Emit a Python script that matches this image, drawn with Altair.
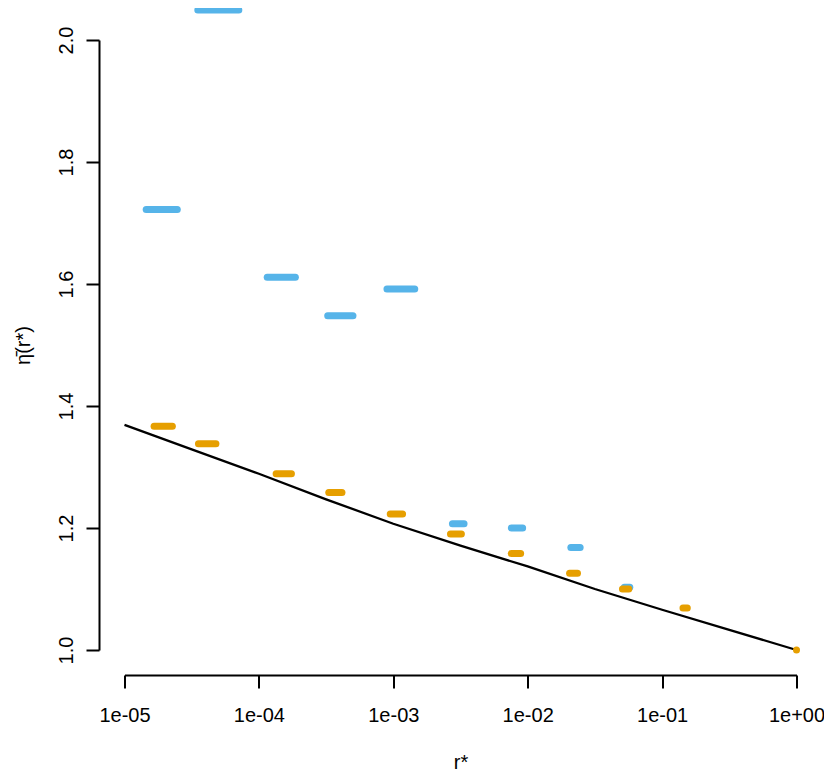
import altair as alt
import pandas as pd

# ---- data ----
line_r = [1e-5, 3.162e-5, 1e-4, 3.162e-4, 1e-3, 3.162e-3, 1e-2, 3.162e-2, 1e-1, 3.162e-1, 1.0]
line_eta = [1.369, 1.329, 1.289, 1.247, 1.207, 1.171, 1.137, 1.100, 1.066, 1.033, 1.000]

blue_lo = [1.45e-5, 3.51e-5, 1.153e-4, 3.25e-4, 8.97e-4, 2.754e-3, 7.55e-3, 2.094e-2, 5.24e-2]
blue_hi = [2.47e-5, 7.09e-5, 1.868e-4, 5.01e-4, 1.444e-3, 3.36e-3, 9.17e-3, 2.456e-2, 5.75e-2]
blue_val = [1.722, 2.049, 1.611, 1.548, 1.592, 1.207, 1.200, 1.168, 1.103]

orange_lo = [1.66e-5, 3.55e-5, 1.343e-4, 3.31e-4, 9.49e-4, 2.663e-3, 7.55e-3, 2.049e-2, 5.07e-2, 0.143, 1.0]
orange_hi = [2.27e-5, 4.79e-5, 1.746e-4, 4.15e-4, 1.172e-3, 3.21e-3, 8.86e-3, 2.347e-2, 5.65e-2, 0.154, 1.0]
orange_val = [1.367, 1.338, 1.289, 1.258, 1.223, 1.190, 1.158, 1.126, 1.100, 1.069, 1.000]

x_tick_values = [1e-5, 1e-4, 1e-3, 1e-2, 1e-1, 1.0]
x_tick_labels = ["1e-05", "1e-04", "1e-03", "1e-02", "1e-01", "1e+00"]
y_tick_values = [1.0, 1.2, 1.4, 1.6, 1.8, 2.0]

x_title = "r*"
y_title = "\u03b7\u0304(r*)"

BLUE = "#56B4E9"
ORANGE = "#E69F00"
FONT = "Liberation Sans"

line_df = pd.DataFrame({"r": line_r, "eta": line_eta})
blue_df = pd.DataFrame({"lo": blue_lo, "hi": blue_hi, "val": blue_val})
orange_df = pd.DataFrame({"lo": orange_lo, "hi": orange_hi, "val": orange_val})

W, H = 672, 610

label_expr = "[" + ",".join("'%s'" % s for s in x_tick_labels) + "][round(log(datum.value)/LN10) + 5]"

x_scale = alt.Scale(type="log", domain=[1e-5, 1.0], nice=False)
y_scale = alt.Scale(domain=[1.0, 2.0], nice=False, zero=False)

common_axis = dict(
    grid=False, domainColor="black", domainWidth=2, tickColor="black", tickWidth=2,
    tickSize=13, labelFont=FONT, labelFontSize=20, labelColor="black",
    labelFlush=False, labelOverlap=False, titleFont=FONT, titleFontSize=20,
    titleFontWeight="normal", titleColor="black",
)

x_axis = alt.Axis(
    values=x_tick_values, labelExpr=label_expr, title=x_title, offset=25,
    labelPadding=33, labelBaseline="alphabetic", labelAlign="center",
    titleX=W / 2, titleY=93, titleBaseline="alphabetic", titleAlign="center",
    **common_axis,
)
y_axis = alt.Axis(
    values=y_tick_values, format=".1f", title=y_title, offset=25.5,
    labelAngle=270, labelAlign="center", labelBaseline="alphabetic", labelPadding=14,
    titleAngle=270, titleX=-70, titleY=H / 2, titleAlign="center", titleBaseline="alphabetic",
    **common_axis,
)

line = alt.Chart(line_df).mark_line(color="black", strokeWidth=2.3).encode(
    x=alt.X("r:Q", scale=x_scale, axis=x_axis),
    y=alt.Y("eta:Q", scale=y_scale, axis=y_axis),
)

blue = alt.Chart(blue_df).mark_rule(color=BLUE, strokeWidth=7, strokeCap="round").encode(
    x=alt.X("lo:Q", scale=x_scale),
    x2="hi:Q",
    y=alt.Y("val:Q", scale=y_scale),
)

orange = alt.Chart(orange_df).mark_rule(color=ORANGE, strokeWidth=7, strokeCap="round").encode(
    x=alt.X("lo:Q", scale=x_scale),
    x2="hi:Q",
    y=alt.Y("val:Q", scale=y_scale),
)

chart = alt.layer(line, blue, orange).properties(
    width=W, height=H,
    background="white",
    autosize=alt.AutoSizeParams(type="none"),
    padding={"left": 116.5, "top": 32, "right": 27.5, "bottom": 121},
).configure_view(stroke=None, strokeWidth=0)

chart.save("out.html", embed_options={"renderer": "svg", "actions": False})
